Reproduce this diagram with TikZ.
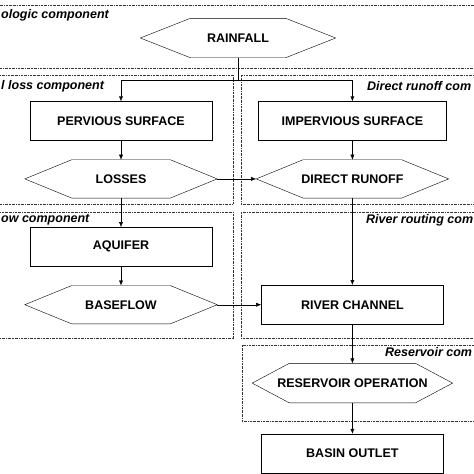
\documentclass[tikz,border=0pt]{standalone}
\usepackage{fontspec}
\setmainfont{Liberation Sans}
\usetikzlibrary{arrows.meta,positioning}

% outline of a flat-topped hexagon round a node
\newcommand{\hexframe}[2]{%
  \draw[thin] (#1.west) -- ([xshift=#2pt]#1.north west) -- ([xshift=-#2pt]#1.north east)
    -- (#1.east) -- ([xshift=-#2pt]#1.south east) -- ([xshift=#2pt]#1.south west) -- cycle;}

\begin{document}
\begin{tikzpicture}[
  x=1pt, y=-1pt,
  font=\fontsize{12.5}{14}\selectfont\bfseries,
  proc/.style={rectangle, draw=black, thin, minimum width=182pt,
               minimum height=39pt, inner sep=2pt},
  hexa/.style={rectangle, minimum width=192pt, minimum height=38pt, inner sep=0pt},
  region/.style={draw=black!80, line width=0.6pt,
                 dash pattern=on 2pt off 0.9pt on 0.6pt off 0.9pt},
  lbl/.style={font=\fontsize{12.5}{14}\selectfont\bfseries\itshape, inner sep=0pt},
  arr/.style={-{Latex[length=5pt,width=4pt]}, thin},
]
\useasboundingbox (0,0) rectangle (474,474);

% component regions
\draw[region] (-60,5) rectangle (540,68);
\draw[region] (-60,75) rectangle (233,204);
\draw[region] (241,75) rectangle (540,204);
\draw[region] (-60,212) rectangle (233,338);
\draw[region] (241,212) rectangle (540,338);
\draw[region] (242,345) rectangle (540,421);

\node[lbl, anchor=west] (hydlbl)  at (1,15)    {ologic component};
\node[lbl, anchor=west] (losslbl) at (1,86)    {l loss component};
\node[lbl, anchor=west] (drlbl)   at (367,86)  {Direct runoff com};
\node[lbl, anchor=west] (bflbl)   at (1,220)   {ow component};
\node[lbl, anchor=west] (rrlbl)   at (366,220) {River routing com};
\node[lbl, anchor=west] (reslbl)  at (385,352) {Reservoir com};

% elements
\node[hexa, minimum width=195pt, minimum height=39pt] (rain) at (238,38) {RAINFALL};
\node[proc] (perv) at (121,121) {PERVIOUS SURFACE};
\node[hexa, below=19pt of perv] (loss) {LOSSES};
\node[proc, below=29pt of loss] (aquif) {AQUIFER};
\node[hexa, below=19pt of aquif] (base) {BASEFLOW};
\node[proc, minimum width=188pt, right=46pt of perv] (imperv) {IMPERVIOUS SURFACE};
\node[hexa, below=19pt of imperv] (drun) {DIRECT RUNOFF};
\node[proc] (river) at (drun |- base) {RIVER CHANNEL};
\node[hexa, minimum width=200pt, minimum height=39pt, below=39pt of river] (resop) {RESERVOIR OPERATION};
\node[proc, below=31pt of resop] (outlet) {BASIN OUTLET};

\hexframe{rain}{50}
\hexframe{loss}{47}
\hexframe{base}{47}
\hexframe{drun}{47}
\hexframe{resop}{37}

% flows
\draw[arr] (rain.south) -- ++(0,22) -| (perv.north);
\draw[arr] (rain.south) -- ++(0,22) -| (imperv.north);
\draw[arr] (perv) -- (loss);
\draw[arr] (imperv) -- (drun);
\draw[arr] (loss.east) -- (drun.west);
\draw[arr] (loss) -- (aquif);
\draw[arr] (aquif) -- (base);
\draw[arr] (base.east) -- (river.west);
\draw[arr] (drun) -- (river);
\draw[arr] (river) -- (resop);
\draw[arr] (resop) -- (outlet);

\end{tikzpicture}
\end{document}
